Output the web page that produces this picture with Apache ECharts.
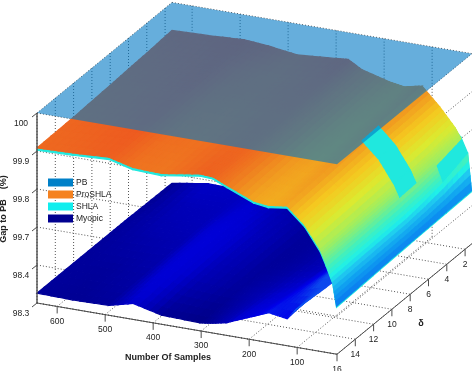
<!DOCTYPE html>
<html>
<head>
<meta charset="utf-8">
<style>html,body{margin:0;padding:0;background:#fff}#main{width:474px;height:371px}</style>
<script src="https://cdn.jsdelivr.net/npm/echarts@6/dist/echarts.min.js"></script>
</head>
<body>
<div id="main"></div>
<script>
"use strict";

// tick labels
let sample_ticks = [600, 500, 400, 300, 200, 100];
let delta_ticks = [16, 14, 12, 10, 8, 6, 4, 2];
let gap_ticks = [98.3, 98.4, 99.7, 99.8, 99.9, 100];

// box limits
let sample_range = [642, 17];
let delta_range = [16, 1.25];
let pb_gap = 100;

// rows of every surface
let delta_rows = [16, 12, 8, 6, 4, 1.25];

// ProSHLA / SHLA columns
let upper_samples = [642, 567, 492, 442, 382, 302, 275, 246, 190, 159, 121, 84, 52, 40, 26, 18];
let proshla_gap = [
    [99.908, 99.911, 99.916, 99.900, 99.897, 99.913, 99.911, 99.895, 99.866, 99.861, 99.868, 99.826, 99.768, 99.734, 99.530, 98.742],
    [99.910, 99.915, 99.920, 99.905, 99.902, 99.911, 99.910, 99.898, 99.872, 99.866, 99.875, 99.832, 99.772, 99.738, 99.580, 98.800],
    [99.915, 99.919, 99.925, 99.910, 99.908, 99.914, 99.914, 99.902, 99.878, 99.872, 99.882, 99.838, 99.778, 99.745, 99.620, 98.850],
    [99.918, 99.922, 99.928, 99.914, 99.912, 99.917, 99.917, 99.904, 99.880, 99.875, 99.885, 99.840, 99.780, 99.748, 99.700, 98.870],
    [99.921, 99.925, 99.930, 99.918, 99.912, 99.920, 99.921, 99.905, 99.883, 99.878, 99.887, 99.842, 99.785, 99.755, 99.710, 98.890],
    [99.926, 99.929, 99.934, 99.929, 99.918, 99.926, 99.929, 99.908, 99.889, 99.882, 99.892, 99.845, 99.797, 99.771, 99.732, 98.913],
];
let shla_gap = [
    [99.902, 99.905, 99.910, 99.894, 99.891, 99.907, 99.905, 99.889, 99.860, 99.855, 99.862, 99.820, 99.762, 99.728, 99.500, 98.700],
    [99.904, 99.909, 99.914, 99.899, 99.896, 99.905, 99.904, 99.892, 99.866, 99.860, 99.869, 99.826, 99.766, 99.732, 99.550, 98.760],
    [99.909, 99.913, 99.919, 99.904, 99.902, 99.908, 99.908, 99.896, 99.872, 99.866, 99.886, 99.842, 99.782, 99.749, 99.600, 98.810],
    [99.912, 99.916, 99.922, 99.908, 99.906, 99.911, 99.911, 99.898, 99.874, 99.869, 99.889, 99.844, 99.784, 99.752, 99.680, 98.830],
    [99.915, 99.919, 99.924, 99.912, 99.906, 99.914, 99.915, 99.899, 99.877, 99.872, 99.881, 99.836, 99.780, 99.759, 99.720, 98.850],
    [99.920, 99.923, 99.928, 99.923, 99.912, 99.920, 99.923, 99.902, 99.883, 99.876, 99.886, 99.839, 99.791, 99.775, 99.736, 98.870],
];

// Myopic columns
let myopic_samples = [642, 567, 492, 442, 382, 302, 275, 246, 190, 159, 121, 102];
let myopic_gap = [
    [98.326, 98.324, 98.326, 98.342, 98.324, 98.321, 98.326, 98.334, 98.363, 98.379, 98.371, 98.400],
    [98.326, 98.326, 98.329, 98.350, 98.332, 98.326, 98.329, 98.332, 98.345, 98.370, 98.395, 98.392],
    [98.326, 98.330, 98.332, 98.352, 98.336, 98.326, 98.326, 98.328, 98.335, 98.360, 98.395, 98.392],
    [98.326, 98.332, 98.334, 98.350, 98.336, 98.326, 98.326, 98.328, 98.335, 98.355, 98.392, 98.392],
    [98.325, 98.334, 98.335, 98.345, 98.334, 98.326, 98.326, 98.328, 98.335, 98.350, 98.390, 98.392],
    [98.324, 98.339, 98.337, 98.340, 98.330, 98.325, 98.325, 98.328, 98.335, 98.345, 98.385, 98.390],
];

// view of the 3D box
let view = {x0: 37, y0: 303, sx: 0.48, sy: 0.082, dx: 9.15, dy: 7.5, tick: 38};

// colour by drawn height
let ramp = [
    [8, '#000088'], [12, '#0000b0'], [16, '#0000d0'], [27, '#0000e8'], [38, '#1060f0'], [48, '#0a78f0'], [60, '#10a0f0'], [70, '#20c8f0'], [76, '#20f0e8'], [84, '#40f0c0'],
    [100, '#a0ee60'], [115, '#dcea30'], [130, '#f5c820'], [145, '#f09020'], [150, '#ef7a20'], [160, '#ee5820'], [170, '#e83a18'],
];

// the gap axis is broken, each tick step has the same length
function gapHeight(gap) {
    for (let k = 0; k < gap_ticks.length - 1; k++) {
        if (gap <= gap_ticks[k + 1]) {
            return (k + (gap - gap_ticks[k]) / (gap_ticks[k + 1] - gap_ticks[k])) * view.tick;
        }
    }
    return (gap_ticks.length - 1) * view.tick;
}

function project(sample, delta, height) {
    let a = sample_range[0] - sample;
    let b = delta_range[0] - delta;
    return [
        view.x0 + a * view.sx + b * view.dx,
        view.y0 + a * view.sy - b * view.dy - height,
    ];
}

function rampColor(h) {
    if (h <= ramp[0][0]) return ramp[0][1];
    for (let k = 0; k < ramp.length - 1; k++) {
        if (h <= ramp[k + 1][0]) {
            let t = (h - ramp[k][0]) / (ramp[k + 1][0] - ramp[k][0]);
            return echarts.color.lerp(t, [ramp[k][1], ramp[k + 1][1]]);
        }
    }
    return ramp[ramp.length - 1][1];
}

// cells from the back of the box to the front
function cellList(samples) {
    let cells = [];
    for (let j = delta_rows.length - 2; j >= 0; j--) {
        for (let i = 0; i < samples.length - 1; i++) {
            cells.push([i, j]);
        }
    }
    return cells;
}

function isAbove(i, j) {
    return shla_gap[j][i] > proshla_gap[j][i] && shla_gap[j][i + 1] > proshla_gap[j][i + 1]
        && shla_gap[j + 1][i] > proshla_gap[j + 1][i] && shla_gap[j + 1][i + 1] > proshla_gap[j + 1][i + 1];
}

// one cell, split into small flat pieces to look shaded
function cellPieces(api, samples, gaps, i, j, flatColor) {
    let n = flatColor ? 1 : 5;
    let h00 = gapHeight(gaps[j][i]), h10 = gapHeight(gaps[j][i + 1]);
    let h01 = gapHeight(gaps[j + 1][i]), h11 = gapHeight(gaps[j + 1][i + 1]);
    let point = function (u, v) {
        let s = samples[i] + (samples[i + 1] - samples[i]) * u;
        let d = delta_rows[j] + (delta_rows[j + 1] - delta_rows[j]) * v;
        let h = (h00 * (1 - u) + h10 * u) * (1 - v) + (h01 * (1 - u) + h11 * u) * v;
        return {xy: api.coord(project(s, d, h)), h: h};
    };
    let children = [];
    for (let p = 0; p < n; p++) {
        for (let q = 0; q < n; q++) {
            let c = [point(p / n, q / n), point((p + 1) / n, q / n), point((p + 1) / n, (q + 1) / n), point(p / n, (q + 1) / n)];
            let color = flatColor || rampColor((c[0].h + c[1].h + c[2].h + c[3].h) / 4);
            children.push({
                type: 'polygon',
                shape: {points: c.map((item) => item.xy)},
                style: {fill: color, stroke: color, lineWidth: 1.2},
            });
        }
    }
    return {type: 'group', children: children};
}

// grid lines on floor and walls
function gridLines(api) {
    let lines = [];
    let add = function (p, q, width) {
        let a = api.coord(p), b = api.coord(q);
        lines.push({
            type: 'line',
            shape: {x1: a[0], y1: a[1], x2: b[0], y2: b[1]},
            style: {stroke: '#555', lineWidth: width || 1, lineDash: [1, 2]},
        });
    };
    let top = gapHeight(pb_gap);
    sample_ticks.forEach((s) => {
        add(project(s, delta_range[0], 0), project(s, delta_range[1], 0));
        add(project(s, delta_range[1], 0), project(s, delta_range[1], top));
    });
    delta_ticks.forEach((d) => {
        add(project(sample_range[0], d, 0), project(sample_range[1], d, 0));
        add(project(sample_range[0], d, 0), project(sample_range[0], d, top));
    });
    gap_ticks.forEach((g) => {
        let h = gapHeight(g);
        add(project(sample_range[0], delta_range[0], h), project(sample_range[1], delta_range[0], h));
        add(project(sample_range[1], delta_range[0], h), project(sample_range[1], delta_range[1], h));
    });
    add(project(sample_range[0], delta_range[1], top), project(sample_range[1], delta_range[1], top));
    add(project(sample_range[0], delta_range[0], top), project(sample_range[0], delta_range[1], top));
    return {type: 'group', children: lines};
}

// axis lines, ticks and labels
function axisMarks(api) {
    let out = [];
    let font = '8.5px "Liberation Sans", Arial, sans-serif';
    let bold = 'bold 9px "Liberation Sans", Arial, sans-serif';
    let solid = function (p, q, width) {
        let a = api.coord(p), b = api.coord(q);
        out.push({
            type: 'line',
            shape: {x1: a[0], y1: a[1], x2: b[0], y2: b[1]},
            style: {stroke: '#4d4d4d', lineWidth: width || 1},
        });
    };
    let text = function (p, str, f, rotation) {
        let a = api.coord(p);
        out.push({
            type: 'text',
            x: a[0],
            y: a[1],
            rotation: rotation || 0,
            style: {text: str, font: f, fill: '#222', align: 'center', verticalAlign: 'middle'},
        });
    };
    let s0 = sample_range[0], s1 = sample_range[1], d0 = delta_range[0], d1 = delta_range[1];
    let left = project(s0, d0, 0);
    solid(left, project(s1, d0, 0));
    solid(project(s1, d0, 0), project(s1, d1, 0));
    solid(left, project(s0, d0, gapHeight(pb_gap)), 1.4);
    sample_ticks.forEach((s) => {
        let p = project(s, d0, 0);
        solid(p, [p[0], p[1] + 7]);
        text([p[0], p[1] + 15], String(s), font);
    });
    delta_ticks.forEach((d) => {
        let p = project(s1, d, 0);
        solid(p, [p[0], p[1] + 7]);
        text([p[0], p[1] + 15], String(d), font);
    });
    gap_ticks.forEach((g) => {
        let p = project(s0, d0, gapHeight(g));
        solid(p, [p[0] - 5, p[1] + 4]);
        text([p[0] - 16, p[1] + 11], String(g), font);
    });
    text([168, 358], 'Number Of Samples', bold);
    text([4, 209], 'Gap to PB    (%)', bold, Math.PI / 2);
    text([421, 324], 'δ', bold);
    return {type: 'group', children: out};
}

function surfaceSeries(name, color, samples, gaps, z, skip, flatColor) {
    return {
        name: name,
        type: 'custom',
        coordinateSystem: 'cartesian2d',
        z: z,
        silent: true,
        clip: false,
        progressive: 0,
        animation: false,
        itemStyle: {color: color},
        data: cellList(samples),
        renderItem: function (params, api) {
            let i = api.value(0), j = api.value(1);
            if (skip && skip(i, j)) {
                return {type: 'group', children: []};
            }
            return cellPieces(api, samples, gaps, i, j, flatColor);
        },
    };
}

let myChart = echarts.init(document.getElementById('main'), null, {renderer: 'canvas'});

let option = {
    animation: false,
    backgroundColor: '#fff',
    grid: {left: 0, right: 0, top: 0, bottom: 0},
    xAxis: {type: 'value', min: 0, max: 474, show: false},
    yAxis: {type: 'value', min: 0, max: 371, inverse: true, show: false},
    legend: {
        left: 48,
        top: 178,
        orient: 'vertical',
        icon: 'rect',
        itemWidth: 25,
        itemHeight: 8,
        itemGap: 3,
        padding: 0,
        selectedMode: false,
        z: 20,
        textStyle: {fontSize: 8.5, color: '#222', fontFamily: '"Liberation Sans", Arial, sans-serif', padding: [0, 0, 0, -2]},
        data: ['PB', 'ProSHLA', 'SHLA', 'Myopic'],
    },
    series: [
        {
            name: 'grid',
            type: 'custom',
            z: 1,
            silent: true,
            clip: false,
            data: [[0, 0]],
            renderItem: function (params, api) {
                return gridLines(api);
            },
        },
        surfaceSeries('Myopic', '#000090', myopic_samples, myopic_gap, 2),
        surfaceSeries('SHLA', '#10eeee', upper_samples, shla_gap, 3, null, '#20e8de'),
        surfaceSeries('ProSHLA', '#f58220', upper_samples, proshla_gap, 4, isAbove),
        {
            name: 'PB',
            type: 'custom',
            z: 5,
            silent: true,
            clip: false,
            itemStyle: {color: '#0080c8'},
            data: [[0, 0]],
            renderItem: function (params, api) {
                let h = gapHeight(pb_gap);
                let points = [
                    project(sample_range[0], delta_range[0], h),
                    project(sample_range[1], delta_range[0], h),
                    project(sample_range[1], delta_range[1], h),
                    project(sample_range[0], delta_range[1], h),
                ].map((p) => api.coord(p));
                return {
                    type: 'polygon',
                    shape: {points: points},
                    style: {fill: 'rgba(0,120,197,0.6)'},
                };
            },
        },
        {
            name: 'axes',
            type: 'custom',
            z: 6,
            silent: true,
            clip: false,
            data: [[0, 0]],
            renderItem: function (params, api) {
                return axisMarks(api);
            },
        },
    ],
};

myChart.setOption(option);
</script>
</body>
</html>
